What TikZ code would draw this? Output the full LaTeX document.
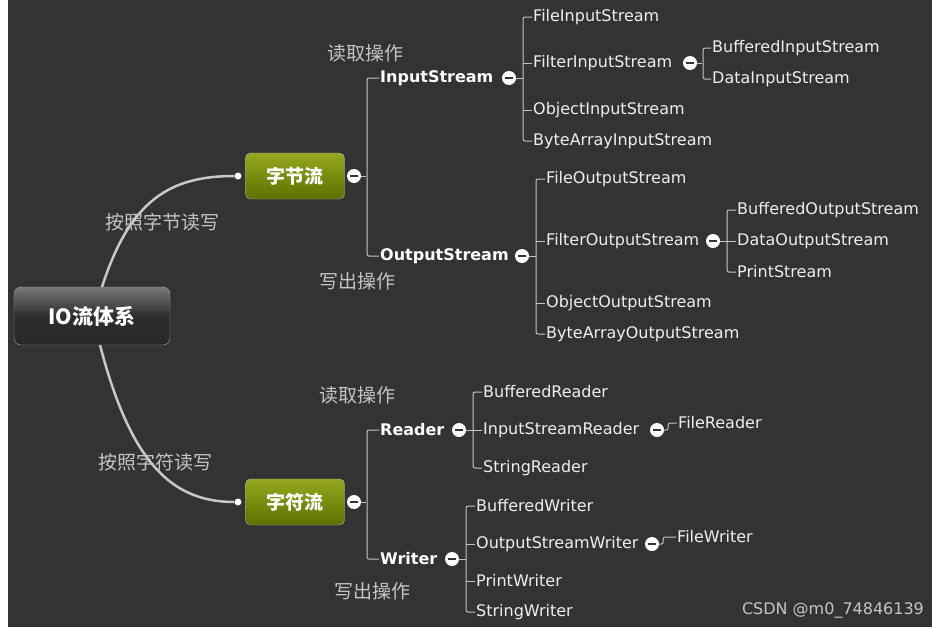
\documentclass[tikz,border=0pt]{standalone}
\usepackage{fontspec}
\setmainfont{DejaVu Sans}
\newfontfamily\cjk{Noto Sans CJK SC}
\usetikzlibrary{calc}
\definecolor{bgc}{HTML}{333333}
\definecolor{lbl}{HTML}{C4C4C4}
\definecolor{txt}{HTML}{EEEEEE}
\tikzset{
  leaf/.style={anchor=west,inner sep=1pt,text=txt,font=\fontsize{16}{17}\selectfont},
  bleaf/.style={leaf,font=\fontsize{16}{17}\selectfont\bfseries,text=white},
  zh/.style={text=lbl,inner sep=0pt,font=\cjk\fontsize{19}{20}\selectfont},
  minus/.style={circle,fill=white,minimum size=14pt,inner sep=0pt,path picture={\draw[bgc,line width=2pt] ($(path picture bounding box.center)+(-4,0)$) -- ($(path picture bounding box.center)+(4,0)$);}},
  br/.style={draw=lbl,line width=1pt,rounded corners=2pt},
  gbox/.style={draw=gray!60,rounded corners=5pt,minimum width=99pt,minimum height=46pt,top color={rgb,255:red,150;green,168;blue,30},bottom color={rgb,255:red,92;green,112;blue,0},text=white,font=\cjk\bfseries\fontsize{19}{20}\selectfont},
  curve/.style={draw={rgb,255:red,200;green,200;blue,200},line width=2.5pt},
  dot/.style={circle,fill=white,minimum size=7pt,inner sep=0pt}
}
\begin{document}
\begin{tikzpicture}[x=1pt,y=-1pt]
\fill[white] (0,0) rectangle (932,627);
\fill[bgc] (8,0) rectangle (932,627);
\useasboundingbox (0,0) rectangle (932,627);
% root
\node[draw=gray!70,rounded corners=7pt,minimum width=156pt,minimum height=58pt,top color={rgb,255:red,120;green,120;blue,120},bottom color={rgb,255:red,40;green,40;blue,40},middle color={rgb,255:red,45;green,45;blue,45},text=white,font=\cjk\bfseries\fontsize{21}{22}\selectfont] (io) at (92,316) {IO流体系};
\node[gbox] (zj) at (295,176) {字节流};
\node[gbox] (zf) at (295,502) {字符流};
\node[dot] (d1) at (238,176) {};
\node[dot] (d2) at (238,502) {};
\draw[curve] (102,287) .. controls (130,200) and (170,176) .. (d1);
\draw[curve] (100,345) .. controls (130,460) and (170,502) .. (d2);
\node[zh] at (162,222) {按照字节读写};
\node[zh] at (155,462) {按照字符读写};
\node[minus] (m1) at (354,176) {};
\node[minus] (m2) at (354,502) {};
% byte streams
\node[bleaf] (is) at (379,78) {InputStream};
\node[bleaf] (os) at (379,256) {OutputStream};
\node[zh] at (365,53) {读取操作};
\node[zh] at (357,281) {写出操作};
\draw[br] (is.west) -- ++(-12,0) |- (os.west);
\draw[br] (m1.east) -- ++(5,0);
\node[minus] (m3) at (509,78) {};
\node[leaf] (fis) at (532,17) {FileInputStream};
\node[leaf] (flis) at (532,63) {FilterInputStream};
\node[leaf] (ois) at (532,110) {ObjectInputStream};
\node[leaf] (bais) at (532,141) {ByteArrayInputStream};
\draw[br] (fis.west) -- ++(-9,0) |- (bais.west);
\draw[br] (flis.west) -- ++(-9,0); \draw[br] (ois.west) -- ++(-9,0);
\draw[br] (m3.east) -- ++(7,0);
\node[minus] (m4) at (690,63) {};
\node[leaf] (bis) at (711,48) {BufferedInputStream};
\node[leaf] (dis) at (711,79) {DataInputStream};
\draw[br] (bis.west) -- ++(-8,0) |- (dis.west);
\draw[br] (m4.east) -- ++(5,0);
\node[minus] (m5) at (522,256) {};
\node[leaf] (fos) at (545,179) {FileOutputStream};
\node[leaf] (flos) at (545,241) {FilterOutputStream};
\node[leaf] (oos) at (545,303) {ObjectOutputStream};
\node[leaf] (baos) at (545,334) {ByteArrayOutputStream};
\draw[br] (fos.west) -- ++(-9,0) |- (baos.west);
\draw[br] (flos.west) -- ++(-9,0); \draw[br] (oos.west) -- ++(-9,0);
\draw[br] (m5.east) -- ++(7,0);
\node[minus] (m6) at (713,241) {};
\node[leaf] (bos) at (736,210) {BufferedOutputStream};
\node[leaf] (dos) at (736,241) {DataOutputStream};
\node[leaf] (ps) at (736,272) {PrintStream};
\draw[br] (bos.west) -- ++(-9,0) |- (ps.west);
\draw[br] (dos.west) -- ++(-9,0);
\draw[br] (m6.east) -- ++(7,0);
% char streams
\node[bleaf] (rd) at (379,430) {Reader};
\node[bleaf] (wr) at (379,559) {Writer};
\node[zh] at (357,395) {读取操作};
\node[zh] at (372,591) {写出操作};
\draw[br] (rd.west) -- ++(-12,0) |- (wr.west);
\draw[br] (m2.east) -- ++(5,0);
\node[minus] (m7) at (459,430) {};
\node[leaf] (brd) at (482,392) {BufferedReader};
\node[leaf] (isr) at (482,430) {InputStreamReader};
\node[leaf] (srd) at (482,468) {StringReader};
\draw[br] (brd.west) -- ++(-9,0) |- (srd.west);
\draw[br] (m7.east) -- (isr.west);
\node[minus] (m8) at (657,430) {};
\node[leaf] (frd) at (677,423) {FileReader};
\draw[br] (m8.east) -- ++(4,0) |- (frd.west);
\node[minus] (m9) at (452,559) {};
\node[leaf] (bw) at (475,506) {BufferedWriter};
\node[leaf] (osw) at (475,544) {OutputStreamWriter};
\node[leaf] (pw) at (475,581) {PrintWriter};
\node[leaf] (sw) at (475,612) {StringWriter};
\draw[br] (bw.west) -- ++(-9,0) |- (sw.west);
\draw[br] (osw.west) -- ++(-9,0); \draw[br] (pw.west) -- ++(-9,0);
\draw[br] (m9.east) -- ++(7,0);
\node[minus] (m10) at (652,544) {};
\node[leaf] (fw) at (676,537) {FileWriter};
\draw[br] (m10.east) -- ++(4,0) |- (fw.west);
\node[text=lbl,font=\fontsize{16}{17}\selectfont] (csdn) at (833,610) {CSDN @m0\_74846139};
\end{tikzpicture}
\end{document}
